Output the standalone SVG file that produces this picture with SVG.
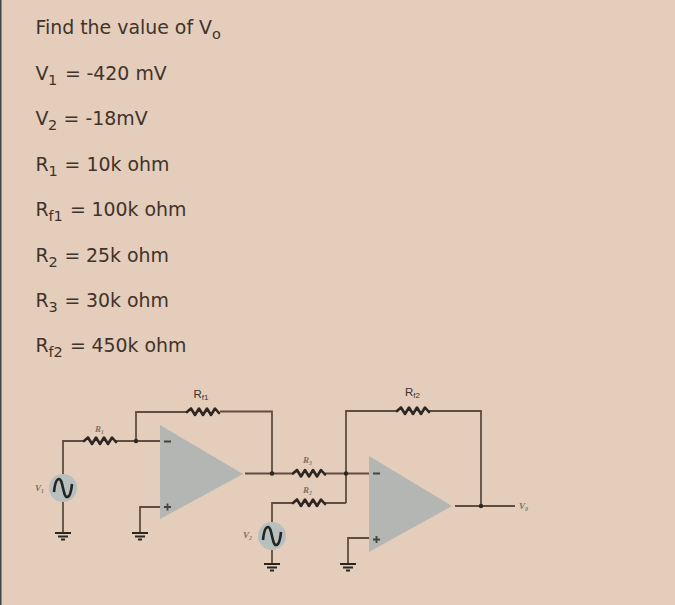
<svg xmlns="http://www.w3.org/2000/svg" width="675" height="605" viewBox="0 0 675 605">
<defs>
<style>
.t{font-family:"DejaVu Sans",Verdana,sans-serif;font-size:18.900px;fill:#40332b}
.s{font-size:14.500px}
.w{fill:none;stroke:#5e4d40;stroke-width:1.800}
.r{fill:none;stroke:#2e2622;stroke-width:2.600;stroke-linejoin:round;stroke-linecap:round}
.oa{fill:#b4b6b3}
.src{fill:#b7bfbf}
.sine{fill:none;stroke:#26241f;stroke-width:2.600}
.l{font-family:"Liberation Sans",Arial,sans-serif;font-size:11.500px;fill:#3a3430}
.i{font-family:"Liberation Serif",serif;font-style:italic;font-size:9px;fill:#7a7064;font-weight:bold}
.g{fill:none;stroke:#2a2622;stroke-width:2}
.pm{fill:none;stroke:#44453f;stroke-width:1.800}
</style>
<g id="res"><path class="r" d="M0 0L4-3.500L8 3 12-3.500 16 3 20-3.500 24 3 28-3.500 32 1"/></g>
<g id="gnd"><path class="g" d="M-8 0h16M-5 3.500h10M-2 6.500h4"/></g>
<circle id="dot" r="2.200" fill="#2a2622"/>
</defs>
<rect width="675" height="605" fill="#e4cdbb"/>
<rect width="1.500" height="605" fill="#3d4650"/>
<g id="text">
<text class="t" x="35.500" y="33.800">Find the value of V<tspan class="s" dy="5">o</tspan></text>
<text class="t" y="79.800"><tspan x="35.500">V</tspan><tspan class="s" x="48" dy="5">1</tspan><tspan dy="-5" x="65">=</tspan><tspan x="86.500">-420 mV</tspan></text>
<text class="t" y="124.800"><tspan x="35.500">V</tspan><tspan class="s" x="48" dy="5">2</tspan><tspan dy="-5" x="63.500">=</tspan><tspan x="85.500">-18mV</tspan></text>
<text class="t" y="170.800"><tspan x="35.500">R</tspan><tspan class="s" x="48.500" dy="5">1</tspan><tspan dy="-5" x="64.500">=</tspan><tspan x="86.500">10k ohm</tspan></text>
<text class="t" y="215.800"><tspan x="35.500">R</tspan><tspan class="s" x="48.500" dy="5">f1</tspan><tspan dy="-5" x="70">=</tspan><tspan x="91.500">100k ohm</tspan></text>
<text class="t" y="261.800"><tspan x="35.500">R</tspan><tspan class="s" x="48.500" dy="5">2</tspan><tspan dy="-5" x="64.500">=</tspan><tspan x="86">25k ohm</tspan></text>
<text class="t" y="306.800"><tspan x="35.500">R</tspan><tspan class="s" x="48.500" dy="5">3</tspan><tspan dy="-5" x="64.500">=</tspan><tspan x="86">30k ohm</tspan></text>
<text class="t" y="351.800"><tspan x="35.500">R</tspan><tspan class="s" x="48.500" dy="5">f2</tspan><tspan dy="-5" x="70">=</tspan><tspan x="91.500">450k ohm</tspan></text>
</g>
<g id="connectors">
<path class="w" d="M63 475V441H84M116 441H160M136 441V412H187M220 411.500H272V473.500M245 473.500H293M325 473.500H369M346 503V411H397M429 411H481V506M455 506H515M272 522V503H293M325 503H346M63 502V532M272 550V563M160 507H140V532M369 538H348V563"/>
<use href="#dot" x="136" y="441"/>
<use href="#dot" x="272" y="473.500"/>
<use href="#dot" x="346" y="473.500"/>
<use href="#dot" x="481" y="506"/>
</g>
<g id="R1"><use href="#res" x="84" y="441"/><text class="i" x="95" y="432">R₁</text></g>
<g id="Rf1"><use href="#res" x="187" y="412"/><text class="l" x="193.500" y="397.500">R<tspan font-size="8" dy="2">f1</tspan></text></g>
<g id="R3"><use href="#res" x="293" y="473.500"/><text class="i" x="303" y="463">R₃</text></g>
<g id="R2"><use href="#res" x="293" y="503"/><text class="i" x="303" y="493">R₂</text></g>
<g id="Rf2"><use href="#res" x="397" y="411"/><text class="l" x="405" y="395.500">R<tspan font-size="8" dy="2">f2</tspan></text></g>
<g id="opamp1"><path class="oa" d="M160 425L243 474L160 519Z"/><path class="pm" d="M164 441.500h7M164 507h7M167.500 503.500v7"/></g>
<g id="opamp2"><path class="oa" d="M369 456L452 506L369 552Z"/><path class="pm" d="M373 473.500h7M373 539.500h7M376.500 536v7"/></g>
<g id="V1"><circle class="src" cx="63" cy="488" r="14"/><path class="sine" d="M54 492C55 482 57 479 59 479C63 479 63 497 67 497C69 497 71 494 72 484"/><text class="i" x="35" y="491">V₁</text></g>
<g id="V2"><circle class="src" cx="272" cy="536" r="14"/><path class="sine" d="M263 540C264 530 266 527 268 527C272 527 272 545 276 545C278 545 280 542 281 532"/><text class="i" x="243" y="538">V₂</text></g>
<g id="vo"><text class="i" x="519" y="509">V₀</text></g>
<g id="grounds"><use href="#gnd" x="63" y="533"/><use href="#gnd" x="140" y="533"/><use href="#gnd" x="272" y="564"/><use href="#gnd" x="348" y="564"/></g>
</svg>
